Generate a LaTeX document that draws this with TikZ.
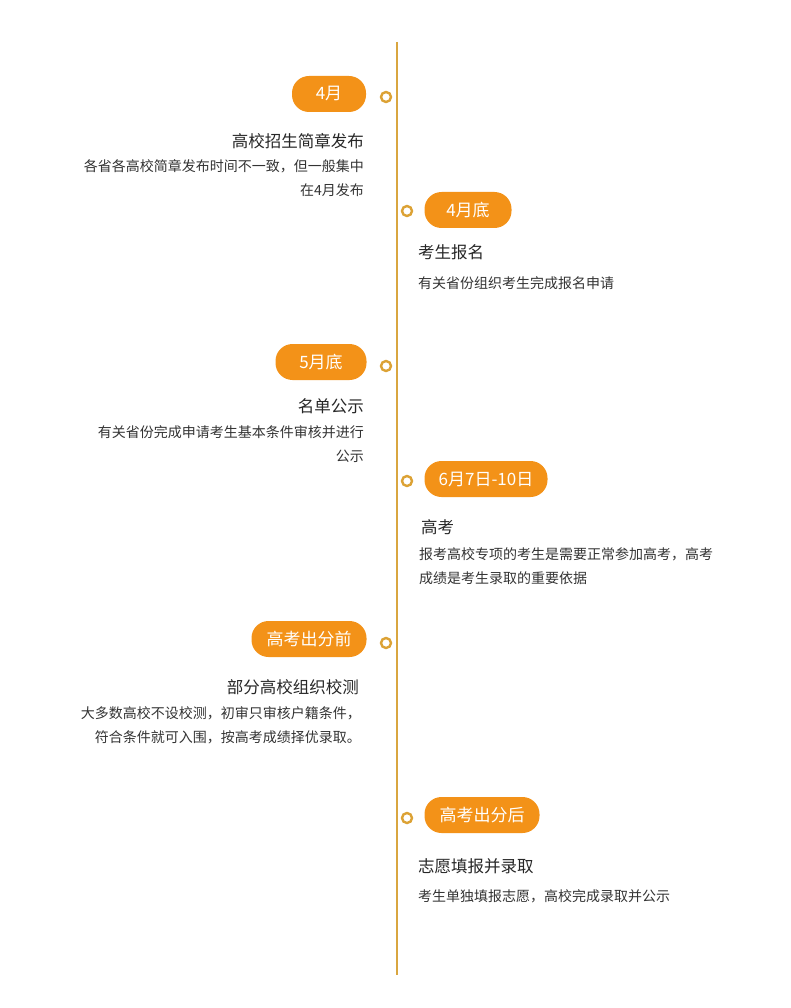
\documentclass[tikz,border=0pt]{standalone}
\usepackage{fontspec}
\setmainfont{Noto Sans CJK SC}
\begin{document}
\begin{tikzpicture}[x=1pt,y=-1pt,
  pill/.style={fill=pillc,rounded corners=17pt,minimum height=36pt,text=white,font=\fontsize{17}{19}\selectfont,inner xsep=12pt},
  ring/.style={circle,draw=ringc,line width=2.4pt,minimum size=10pt,inner sep=0pt,fill=white},
  ttl/.style={font=\fontsize{16.5}{19}\selectfont,text=black!85,inner sep=0pt},
  dsc/.style={font=\fontsize{14}{24}\selectfont,text=black!80,inner sep=0pt}]
\definecolor{pillc}{HTML}{F39218}
\definecolor{ringc}{HTML}{DCA235}
\definecolor{linec}{HTML}{D9A640}
\useasboundingbox (0,0) rectangle (790,1008);
\coordinate (top) at (397,42); \coordinate (bot) at (397,975);
\draw[linec,line width=1.2pt] (top) -- (bot);
% 1
\node[pill,minimum width=74pt] (p1) at (329,94) {4月};
\node[ring] (r1) at (386,97) {};
\node[ttl,anchor=east] (t1) at (364,141) {高校招生简章发布};
\node[dsc,anchor=north east,align=right] (d1) at (364,159) {各省各高校简章发布时间不一致，但一般集中\\在4月发布};
% 2
\node[ring] (r2) at (407,211) {};
\node[pill,minimum width=87pt] (p2) at (468,210) {4月底};
\node[ttl,anchor=west] (t2) at (418,252) {考生报名};
\node[dsc,anchor=west] (d2) at (418,283) {有关省份组织考生完成报名申请};
% 3
\node[pill,minimum width=91pt] (p3) at (321,362) {5月底};
\node[ring] (r3) at (386,366) {};
\node[ttl,anchor=east] (t3) at (364,406) {名单公示};
\node[dsc,anchor=north east,align=right] (d3) at (364,425) {有关省份完成申请考生基本条件审核并进行\\公示};
% 4
\node[ring] (r4) at (407,481) {};
\node[pill,minimum width=123pt] (p4) at (486,479) {6月7日-10日};
\node[ttl,anchor=west] (t4) at (421,527) {高考};
\node[dsc,anchor=north west,align=left] (d4) at (419,547) {报考高校专项的考生是需要正常参加高考，高考\\成绩是考生录取的重要依据};
% 5
\node[pill,minimum width=115pt] (p5) at (309,639) {高考出分前};
\node[ring] (r5) at (386,643) {};
\node[ttl,anchor=east] (t5) at (359,687) {部分高校组织校测};
\node[dsc,anchor=north east,align=right] (d5) at (361,706) {大多数高校不设校测，初审只审核户籍条件，\\符合条件就可入围，按高考成绩择优录取。};
% 6
\node[ring] (r6) at (407,818) {};
\node[pill,minimum width=115pt] (p6) at (482,815) {高考出分后};
\node[ttl,anchor=west] (t6) at (418,866) {志愿填报并录取};
\node[dsc,anchor=west] (d6) at (418,896) {考生单独填报志愿，高校完成录取并公示};
\end{tikzpicture}
\end{document}
